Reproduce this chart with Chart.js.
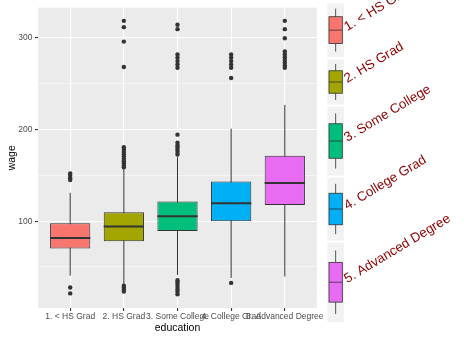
<!DOCTYPE html>
<html>
<head>
<meta charset="utf-8">
<script src="https://cdn.jsdelivr.net/npm/chart.js@4.4.0/dist/chart.umd.min.js"></script>
<style>
  body { margin: 0; background: #ffffff; }
  canvas { display: block; }
</style>
</head>
<body>
<canvas id="wage-chart" width="474" height="338"></canvas>
<script>
// categories on the x axis and their fill colours
let education = ['1. < HS Grad', '2. HS Grad', '3. Some College', '4. College Grad', '5. Advanced Degree'];
let box_colors = ['#F8766D', '#A3A500', '#00BF7D', '#00B0F6', '#E76BF3'];

// box statistics of wage for each education level
let lower_quartile = [70.2, 78.0, 89.2, 100.0, 117.7];
let median_wage = [81.6, 94.3, 105.4, 119.5, 141.8];
let upper_quartile = [97.8, 109.7, 121.6, 143.2, 171.4];
let whisker_low = [40.5, 31.0, 41.3, 38.0, 39.5];
let whisker_high = [131.0, 157.0, 170.0, 201.0, 227.0];

// outlying wages, one list per education level
let outliers_hs_less = [152.2, 149.5, 147.0, 145.0, 27.6, 21.1];
let outliers_hs_grad = [318.8, 311.9, 296.1, 268.3, 180.8, 178.0, 175.5, 173.0, 170.5, 168.0, 165.5, 163.0, 160.5, 158.8, 29.4, 27.5, 25.5, 23.2];
let outliers_some_college = [314.5, 309.7, 282.1, 278.4, 274.8, 271.2, 267.6, 194.5, 185.8, 183.0, 180.5, 178.0, 175.5, 172.9, 35.6, 33.0, 30.5, 28.0, 25.5, 23.0, 20.1];
let outliers_college_grad = [282.1, 278.4, 274.8, 271.2, 267.6, 256.4, 32.6];
let outliers_advanced = [318.8, 309.7, 299.7, 285.3, 282.0, 279.0, 276.0, 273.0, 270.0, 267.6];

// y axis ticks
let y_ticks = [100, 200, 300];
let y_minor_ticks = [50, 150, 250];

let font_family = '"Liberation Sans", Arial, Helvetica, sans-serif';

let all_outliers = [outliers_hs_less, outliers_hs_grad, outliers_some_college, outliers_college_grad, outliers_advanced];

//build the data for the datasets
let box_points = education.map((e, i) => ({x: i + 1, y: [lower_quartile[i], upper_quartile[i]]}));
let median_points = education.map((e, i) => ({x: i + 1, y: median_wage[i]}));
let whisker_points = [];
education.forEach((e, i) => {
    whisker_points.push({x: i + 1, y: whisker_low[i]});
    whisker_points.push({x: i + 1, y: whisker_high[i]});
    whisker_points.push({x: i + 1, y: null});
});
let outlier_points = [];
all_outliers.forEach((list, i) => {
    list.forEach(v => outlier_points.push({x: i + 1, y: v}));
});

//grey panel behind the grid lines
let panel_background = {
    id: 'panelBackground',
    beforeDraw(chart) {
        let {ctx, chartArea} = chart;
        ctx.save();
        ctx.fillStyle = '#EBEBEB';
        ctx.fillRect(chartArea.left, chartArea.top, chartArea.right - chartArea.left, chartArea.bottom - chartArea.top);
        ctx.restore();
    }
};

//legend on the right with boxplot keys and slanted labels
let slanted_legend = {
    id: 'slantedLegend',
    afterDraw(chart) {
        let ctx = chart.ctx;
        let key_rows = [[3.3, 57], [59.5, 104.5], [106.5, 175.5], [177.5, 240.5], [242.5, 322]];
        let key_left = 327.3, key_width = 16.7;
        ctx.save();
        key_rows.forEach((row, i) => {
            let top = row[0], h = row[1] - row[0];
            let mid_x = key_left + key_width / 2;
            ctx.fillStyle = '#F2F2F2';
            ctx.fillRect(key_left, top, key_width, h);
            // whisker
            ctx.strokeStyle = '#555555';
            ctx.lineWidth = 1;
            ctx.beginPath();
            ctx.moveTo(mid_x, top + h * 0.1);
            ctx.lineTo(mid_x, top + h * 0.9);
            ctx.stroke();
            // box
            let bx = key_left + key_width * 0.1, bw = key_width * 0.8;
            ctx.fillStyle = box_colors[i];
            ctx.fillRect(bx, top + h * 0.25, bw, h * 0.5);
            ctx.strokeStyle = '#333333';
            ctx.lineWidth = 0.8;
            ctx.strokeRect(bx, top + h * 0.25, bw, h * 0.5);
            ctx.beginPath();
            ctx.moveTo(bx, top + h * 0.5);
            ctx.lineTo(bx + bw, top + h * 0.5);
            ctx.stroke();
            // label
            ctx.save();
            ctx.translate(347.3, top + h / 2 + 1);
            ctx.rotate(-31 * Math.PI / 180);
            ctx.fillStyle = '#8B0000';
            ctx.font = '13.3px ' + font_family;
            ctx.textAlign = 'left';
            ctx.textBaseline = 'alphabetic';
            ctx.fillText(education[i], 0, 0);
            ctx.restore();
        });
        ctx.restore();
    }
};

let wage_ctx = document.getElementById('wage-chart');

let wage_chart = new Chart(wage_ctx, {
    type: 'bar',
    data: {
        datasets: [
            {
                type: 'line',
                data: whisker_points,
                borderColor: '#333333',
                borderWidth: 1,
                pointRadius: 0,
                spanGaps: false,
                order: 4
            },
            {
                type: 'bar',
                data: box_points,
                backgroundColor: box_colors,
                borderColor: '#333333',
                borderWidth: 1,
                borderSkipped: false,
                categoryPercentage: 1,
                barPercentage: 0.75,
                order: 3
            },
            {
                type: 'line',
                data: median_points,
                showLine: false,
                pointStyle: 'line',
                pointRadius: 20.15,
                pointBorderWidth: 2,
                pointBorderColor: '#333333',
                order: 2
            },
            {
                type: 'line',
                data: outlier_points,
                showLine: false,
                pointRadius: 2.2,
                pointBorderWidth: 0,
                pointBackgroundColor: '#333333',
                order: 1
            }
        ]
    },
    options: {
        responsive: false,
        animation: false,
        events: [],
        layout: {
            autoPadding: false,
            padding: {top: 5, right: 157, left: 0, bottom: 0}
        },
        plugins: {
            legend: {display: false},
            tooltip: {enabled: false}
        },
        scales: {
            x: {
                type: 'linear',
                min: 0.4,
                max: 5.6,
                offset: false,
                afterBuildTicks: scale => {
                    scale.ticks = education.map((e, i) => ({value: i + 1}));
                },
                afterFit: scale => {
                    scale.height = 30;
                },
                border: {display: false},
                grid: {
                    offset: false,
                    color: '#ffffff',
                    lineWidth: 1.1,
                    tickLength: 3,
                    tickColor: '#333333'
                },
                ticks: {
                    autoSkip: false,
                    maxRotation: 0,
                    minRotation: 0,
                    padding: 1,
                    color: '#4D4D4D',
                    font: {family: font_family, size: 8.5},
                    callback: (value, index) => education[index]
                },
                title: {
                    display: true,
                    text: 'education',
                    color: '#000000',
                    font: {family: font_family, size: 10.5},
                    padding: {top: 0, bottom: 4}
                }
            },
            y: {
                min: 5.18,
                max: 333.25,
                afterBuildTicks: scale => {
                    scale.ticks = y_minor_ticks.concat(y_ticks).sort((a, b) => a - b).map(v => ({value: v}));
                },
                afterFit: scale => {
                    scale.width = 38;
                },
                border: {display: false},
                grid: {
                    color: '#ffffff',
                    lineWidth: ctx => y_ticks.includes(ctx.tick.value) ? 1.1 : 0.55,
                    tickLength: 3,
                    tickColor: ctx => y_ticks.includes(ctx.tick.value) ? '#333333' : 'rgba(0,0,0,0)'
                },
                ticks: {
                    padding: 2.5,
                    color: '#4D4D4D',
                    font: {family: font_family, size: 8.5},
                    callback: value => y_ticks.includes(value) ? value : ''
                },
                title: {
                    display: true,
                    text: 'wage',
                    color: '#000000',
                    font: {family: font_family, size: 10.5},
                    padding: {top: 6, bottom: 0}
                }
            }
        }
    },
    plugins: [panel_background, slanted_legend]
});
</script>
</body>
</html>
